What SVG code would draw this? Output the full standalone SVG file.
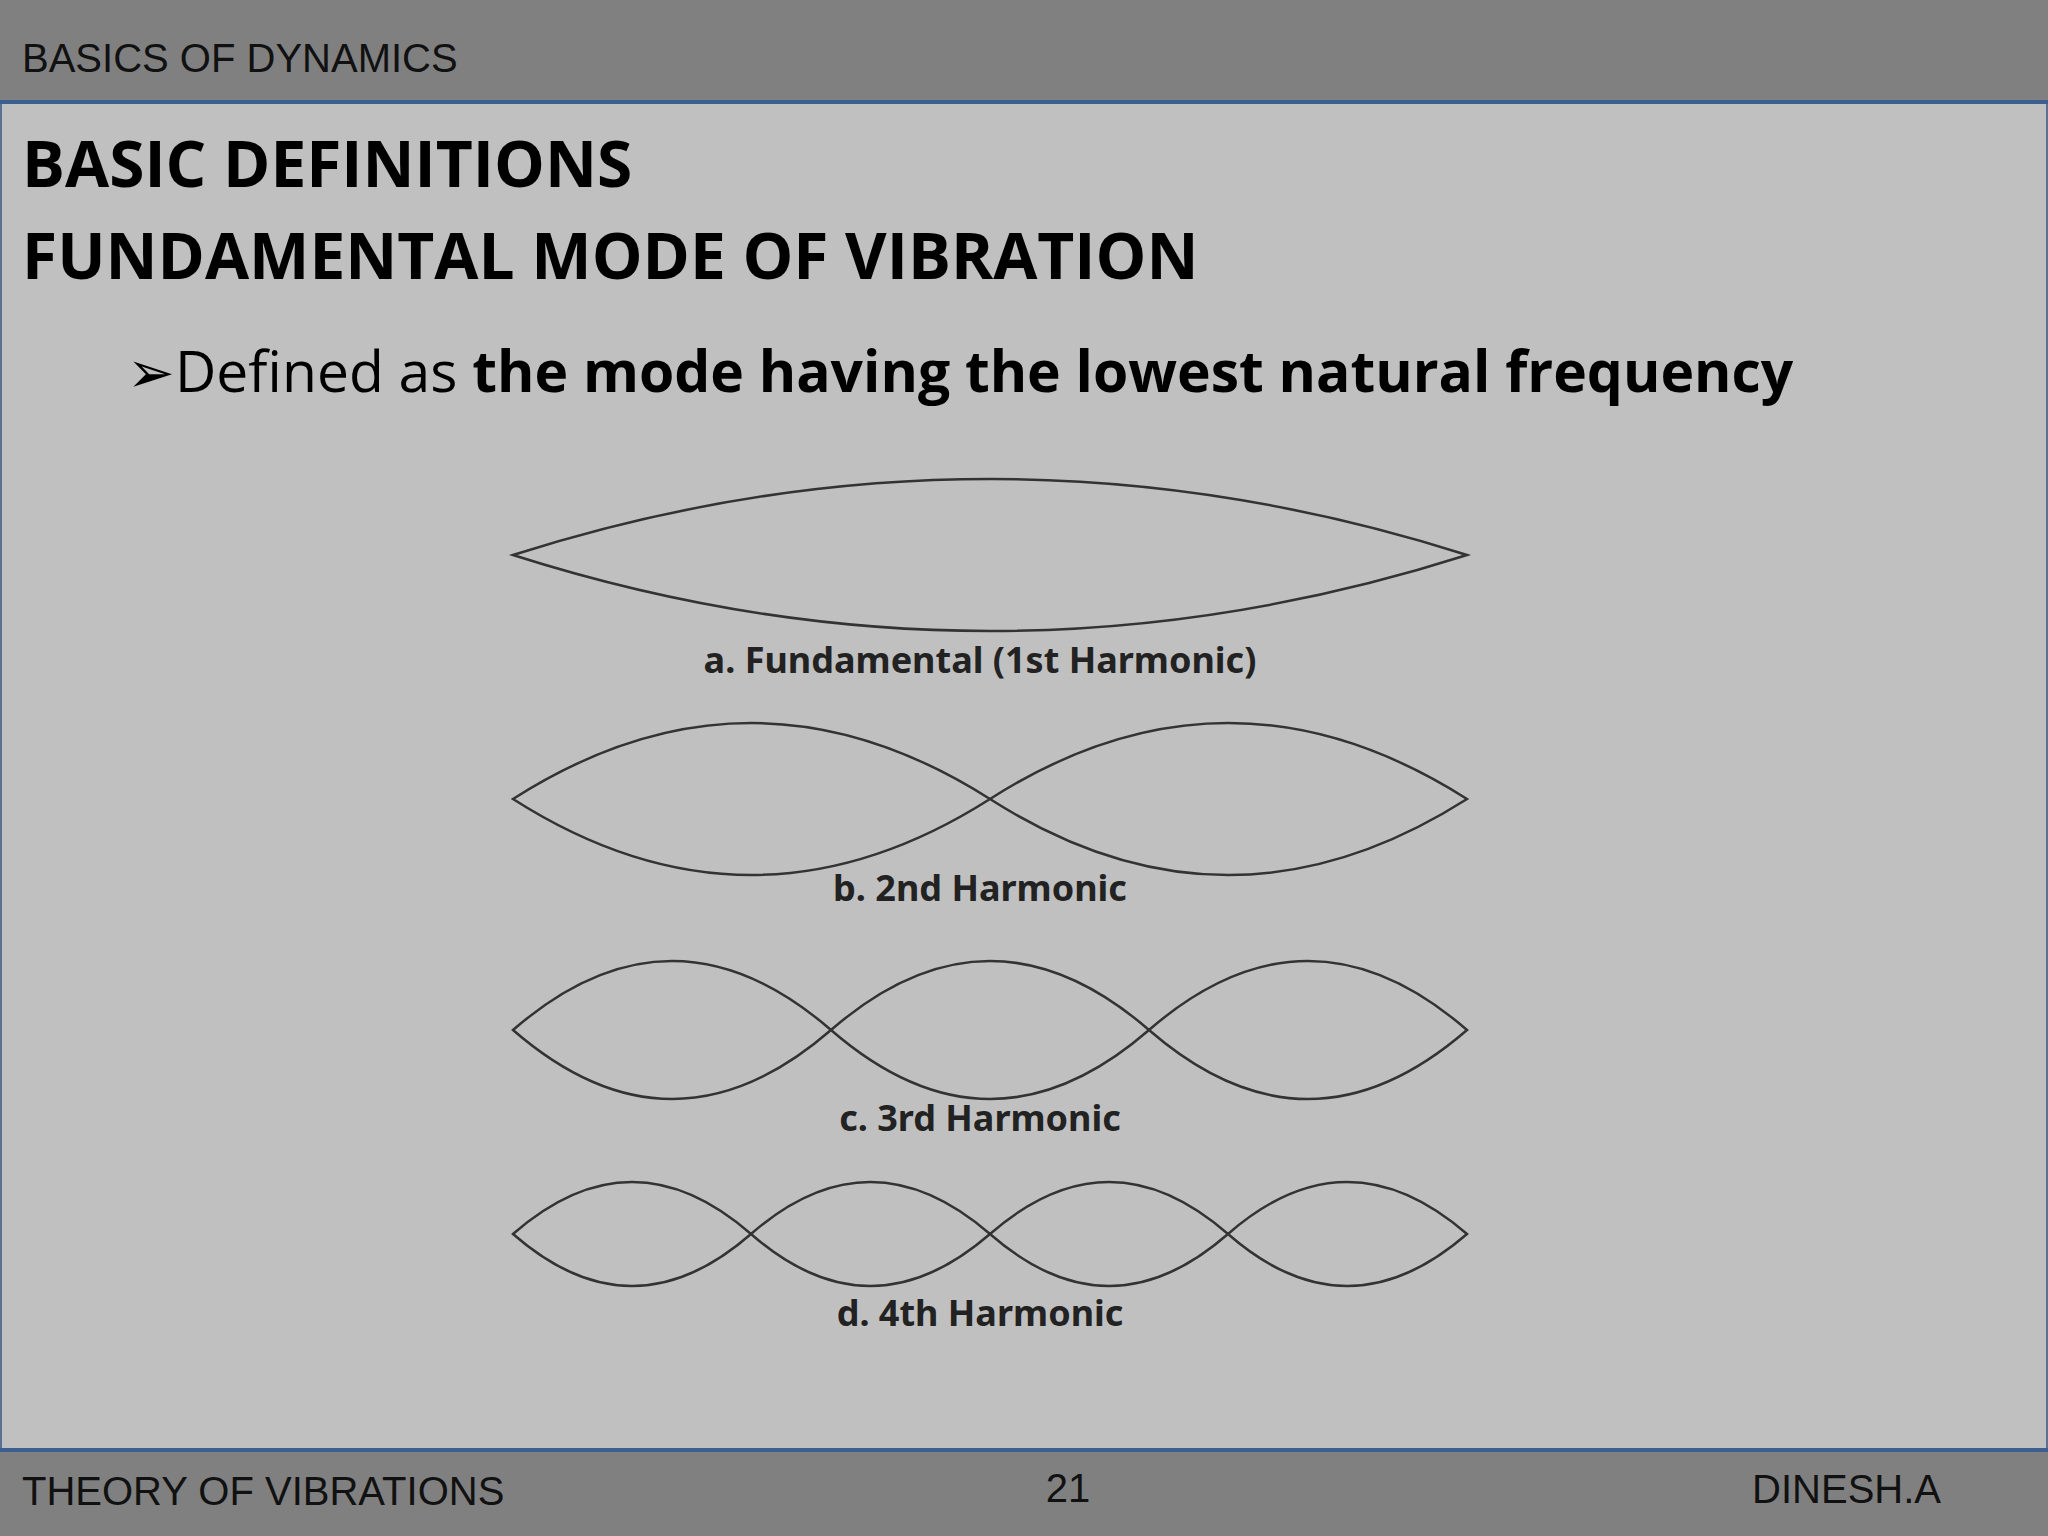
<svg xmlns="http://www.w3.org/2000/svg" width="2048" height="1536" viewBox="0 0 2048 1536">
<style>
.bar{fill:#808080}
.hdr{font-family:"Liberation Sans",Arial,sans-serif;font-size:40px;fill:#111}
.ttl{font-family:"Open Sans","Noto Sans",sans-serif;font-weight:bold;font-size:64px;fill:#000}
.wave{fill:none;stroke:#333;stroke-width:2.5}
.lbl{font-family:"Noto Sans","DejaVu Sans",sans-serif;font-weight:bold;font-size:36px;fill:#222;text-anchor:middle}
</style>
<rect width="2048" height="1536" fill="#c0c0c0"/>
<rect x="1" y="1" width="2046" height="1534" fill="none" stroke="#5a7090" stroke-width="2"/>
<rect class="bar" x="0" y="0" width="2048" height="102"/>
<line x1="0" y1="102" x2="2048" y2="102" stroke="#3d5f8f" stroke-width="4"/>
<text class="hdr" x="22" y="72">BASICS OF DYNAMICS</text>
<rect class="bar" x="0" y="1450" width="2048" height="86"/>
<line x1="0" y1="1450" x2="2048" y2="1450" stroke="#3d5f8f" stroke-width="4"/>
<text class="hdr" x="22" y="1505">THEORY OF VIBRATIONS</text>
<text class="hdr" x="1068" y="1502" text-anchor="middle">21</text>
<text class="hdr" x="1941" y="1503" text-anchor="end">DINESH.A</text>
<text class="ttl" x="22" y="187">BASIC DEFINITIONS</text>
<text class="ttl" x="22" y="279">FUNDAMENTAL MODE OF VIBRATION</text>
<text x="127" y="392" font-family="'Open Sans','Noto Sans',sans-serif" font-size="57" fill="#000">➢Defined as <tspan font-weight="bold">the mode having the lowest natural frequency</tspan></text>
<g id="wave-a">
<path class="wave" d="M513 555 Q990 403 1467 555 Q990 707 513 555Z"/>
<text class="lbl" x="980" y="673">a. Fundamental (1st Harmonic)</text>
</g>
<g id="wave-b">
<path class="wave" d="M513 799 Q751 647 990 799 Q1228 647 1467 799 Q1228 951 990 799 Q751 951 513 799Z"/>
<text class="lbl" x="980" y="901">b. 2nd Harmonic</text>
</g>
<g id="wave-c">
<path class="wave" d="M513 1030 Q672 892 831 1030 Q990 892 1149 1030 Q1308 892 1467 1030 Q1308 1168 1149 1030 Q990 1168 831 1030 Q672 1168 513 1030Z"/>
<text class="lbl" x="980" y="1131">c. 3rd Harmonic</text>
</g>
<g id="wave-d">
<path class="wave" d="M513 1234 Q632 1130 751 1234 Q870 1130 990 1234 Q1109 1130 1228 1234 Q1347 1130 1467 1234 Q1347 1338 1228 1234 Q1109 1338 990 1234 Q870 1338 751 1234 Q632 1338 513 1234Z"/>
<text class="lbl" x="980" y="1326">d. 4th Harmonic</text>
</g>
</svg>
